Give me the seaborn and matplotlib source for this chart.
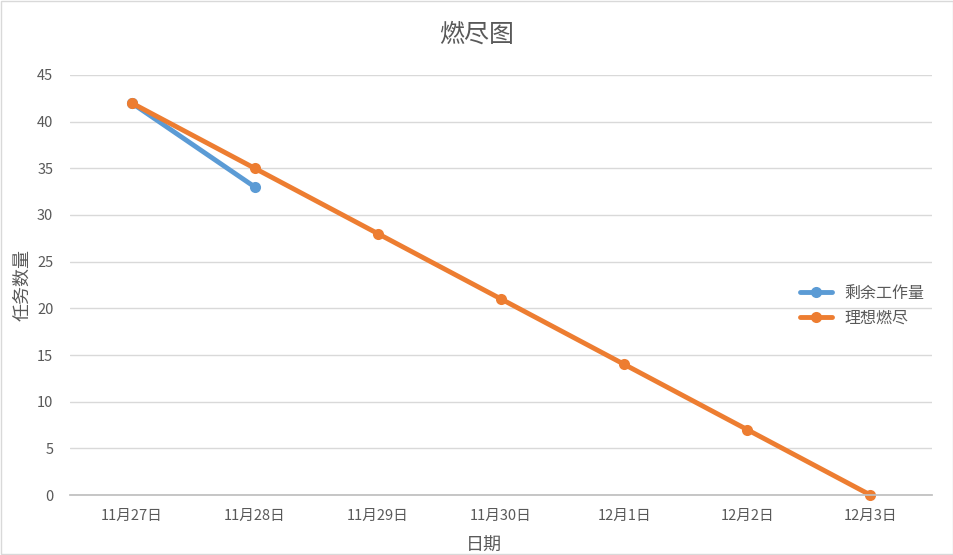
import numpy as np
import pandas as pd
import seaborn as sns
import matplotlib.pyplot as plt
from matplotlib.patches import Rectangle

dates = ['11月27日', '11月28日', '11月29日', '11月30日', '12月1日', '12月2日', '12月3日']
remaining = [42, 33]
ideal = [42, 35, 28, 21, 14, 7, 0]

sns.set_theme(style='white')
plt.rcParams['font.family'] = ['Noto Sans CJK SC', 'DejaVu Sans']

fig = plt.figure(figsize=(9.54, 5.55), dpi=100)
ax = fig.add_axes([0.0734, 0.108, 0.9036, 0.757])
fig.patches.append(Rectangle((0.001, 0.001), 0.998, 0.998, transform=fig.transFigure,
                             fill=False, edgecolor='#D9D9D9', linewidth=1))

x = np.arange(len(dates))
df = pd.DataFrame({'x': np.concatenate([x[:len(remaining)], x]),
                   'v': remaining + ideal,
                   's': ['剩余工作量'] * len(remaining) + ['理想燃尽'] * len(ideal)})
sns.lineplot(data=df, x='x', y='v', hue='s', palette=['#5B9BD5', '#ED7D31'],
             marker='o', markersize=8, markeredgewidth=0, linewidth=3.5, ax=ax,
             clip_on=False)

ax.set_xlim(-0.5, len(dates) - 0.5)
ax.set_ylim(0, 45)
ax.set_yticks(range(0, 46, 5))
ax.set_xticks(x)
ax.set_xticklabels(dates)
ax.set_xticks(np.arange(-0.5, len(dates)), minor=True)
ax.tick_params(axis='x', which='major', length=0, labelsize=10.5, colors='#595959', pad=10)
ax.tick_params(axis='x', which='minor', length=5, color='#BFBFBF', direction='out')
ax.tick_params(axis='y', length=0, labelsize=10.5, colors='#595959', pad=12)
ax.grid(axis='y', color='#D9D9D9', linewidth=1)
ax.set_axisbelow(True)
for s in ['top', 'right', 'left']:
    ax.spines[s].set_visible(False)
ax.spines['bottom'].set_color('#BFBFBF')

ax.set_xlabel('日期', fontsize=13, color='#595959', labelpad=1)
ax.xaxis.set_label_coords(0.48, -0.1)
ax.set_ylabel('任务数量', fontsize=13, color='#595959', labelpad=4)
fig.text(0.5, 0.937, '燃尽图', fontsize=18, color='#595959', ha='center', va='center')

leg = ax.legend(loc='center left', bbox_to_anchor=(0.83, 0.45), frameon=False,
                fontsize=11.5, handlelength=2, labelcolor='#595959')

fig.savefig('out.png', dpi=100)
